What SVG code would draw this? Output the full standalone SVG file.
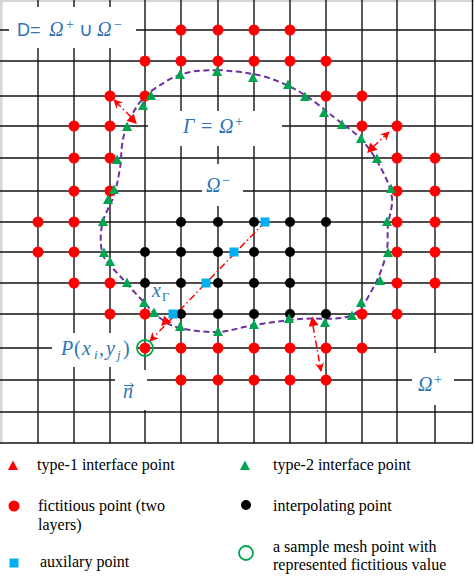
<svg xmlns="http://www.w3.org/2000/svg" xmlns:xlink="http://www.w3.org/1999/xlink" width="474" height="577" viewBox="0 0 474 577">
<style>
.grid{stroke:#151515;stroke-width:1.4;fill:none}
.mask{fill:#fff}
.fict{fill:#ff0000}
.interp{fill:#000}
.t2{fill:#00a550}
.t1{fill:#ff0000}
.aux{fill:#00b0f0}
.curve{fill:none;stroke:#7030a0;stroke-width:2;stroke-dasharray:6 3.5}
.ray{fill:none;stroke:#ff0000;stroke-width:1.5;stroke-dasharray:7 3 1.5 3}
.lab{fill:#2e74b5;font-family:"Liberation Serif",serif;font-style:italic}
.leg{fill:#000;font-family:"Liberation Serif",serif;font-size:16px}
</style>
<defs>
<path id="tri" d="M0,-5.5 L5,4 L-5,4 Z"/>
<marker id="ah" viewBox="0 0 10 10" refX="9" refY="5" markerWidth="9" markerHeight="9" markerUnits="userSpaceOnUse" orient="auto">
<path d="M0,0 L10,5 L0,10 L3,5 Z" fill="#ff0000"/>
</marker>
</defs>
<rect width="474" height="577" fill="#fff"/>
<rect x="0" y="0" width="474" height="2" fill="#d6d6d6"/>
<rect x="0" y="0" width="2.5" height="443" fill="#d6d6d6"/>
<g id="grid" class="grid">
<path d="M38,0V443M74,0V443M110,0V443M145,0V443M181,0V443M218,0V443M254,0V443M290,0V443M326,0V443M362,0V443M397,0V443M435,0V443M472.5,0V443"/>
<path d="M0,30H473M0,61H473M0,96H473M0,126H473M0,158H473M0,191H473M0,222H473M0,252H473M0,283H473M0,314H473M0,348H473M0,380H473M0,412H473M0,443H473"/>
</g>
<g id="label-masks" class="mask">
<rect x="9" y="7" width="127" height="41"/>
<rect x="148" y="111" width="134" height="35"/>
<rect x="202" y="164" width="41" height="42"/>
<rect x="52" y="333" width="85" height="34"/>
<rect x="115" y="370" width="32" height="40"/>
<rect x="412" y="353" width="42" height="52"/>
</g>
<g id="connectors">
<path class="curve" d="M217,70 C229,70.7 248.2,72.3 262,76 C275.8,79.7 287.8,85 300,92 C312.2,99 324.7,110 335,118 C345.3,126 354.2,131.3 362,140 C369.8,148.7 377,160.3 382,170 C387,179.7 391,188.8 392,198 C393,207.2 389,215.5 388,225 C387,234.5 388.7,244.2 386,255 C383.3,265.8 378,279.8 372,290 C366,300.2 362,311.2 350,316 C338,320.8 316,317.5 300,319 C284,320.5 267.7,322.8 254,325 C240.3,327.2 230.3,331.5 218,332 C205.7,332.5 189.7,330.3 180,328 C170.3,325.7 166.7,323 160,318 C153.3,313 146.7,305 140,298 C133.3,291 126.2,283.2 120,276 C113.8,268.8 106,263.5 103,255 C100,246.5 100.2,235 102,225 C103.8,215 111,204.5 114,195 C117,185.5 118.3,178 120,168 C121.7,158 120.7,146 124,135 C127.3,124 133.2,110.8 140,102 C146.8,93.2 156.7,87 165,82 C173.3,77 181.3,74 190,72 C198.7,70 205,70.7 217,70 Z"/>
<path class="ray" d="M265,222 L150,341" marker-end="url(#ah)"/>
<path class="ray" d="M131,117 L114,100" marker-end="url(#ah)"/>
<path class="ray" d="M373,147 L389,132" marker-end="url(#ah)"/>
<path class="ray" d="M313,326 L321,371" marker-end="url(#ah)"/>
</g>
<g id="fictitious-points" class="fict">
<circle cx="181" cy="30" r="5.5"/><circle cx="218" cy="30" r="5.5"/><circle cx="254" cy="30" r="5.5"/><circle cx="290" cy="30" r="5.5"/>
<circle cx="145" cy="61" r="5.5"/><circle cx="181" cy="61" r="5.5"/><circle cx="218" cy="61" r="5.5"/><circle cx="254" cy="61" r="5.5"/><circle cx="290" cy="61" r="5.5"/><circle cx="326" cy="61" r="5.5"/>
<circle cx="110" cy="96" r="5.5"/><circle cx="145" cy="96" r="5.5"/><circle cx="326" cy="96" r="5.5"/><circle cx="362" cy="96" r="5.5"/>
<circle cx="74" cy="126" r="5.5"/><circle cx="110" cy="126" r="5.5"/><circle cx="362" cy="126" r="5.5"/><circle cx="397" cy="126" r="5.5"/>
<circle cx="74" cy="158" r="5.5"/><circle cx="110" cy="158" r="5.5"/><circle cx="397" cy="158" r="5.5"/><circle cx="435" cy="158" r="5.5"/>
<circle cx="74" cy="191" r="5.5"/><circle cx="110" cy="191" r="5.5"/><circle cx="397" cy="191" r="5.5"/><circle cx="435" cy="191" r="5.5"/>
<circle cx="38" cy="222" r="5.5"/><circle cx="74" cy="222" r="5.5"/><circle cx="397" cy="222" r="5.5"/><circle cx="435" cy="222" r="5.5"/>
<circle cx="38" cy="252" r="5.5"/><circle cx="74" cy="252" r="5.5"/><circle cx="397" cy="252" r="5.5"/><circle cx="435" cy="252" r="5.5"/>
<circle cx="74" cy="283" r="5.5"/><circle cx="110" cy="283" r="5.5"/><circle cx="397" cy="283" r="5.5"/><circle cx="435" cy="283" r="5.5"/>
<circle cx="110" cy="314" r="5.5"/><circle cx="145" cy="314" r="5.5"/><circle cx="362" cy="314" r="5.5"/><circle cx="397" cy="314" r="5.5"/>
<circle cx="145" cy="348" r="5.5"/><circle cx="181" cy="348" r="5.5"/><circle cx="218" cy="348" r="5.5"/><circle cx="254" cy="348" r="5.5"/><circle cx="290" cy="348" r="5.5"/><circle cx="326" cy="348" r="5.5"/><circle cx="362" cy="348" r="5.5"/>
<circle cx="181" cy="380" r="5.5"/><circle cx="218" cy="380" r="5.5"/><circle cx="254" cy="380" r="5.5"/><circle cx="290" cy="380" r="5.5"/><circle cx="326" cy="380" r="5.5"/>
</g>
<g id="interpolating-points" class="interp">
<circle cx="181" cy="222" r="5"/><circle cx="218" cy="222" r="5"/><circle cx="254" cy="222" r="5"/><circle cx="290" cy="222" r="5"/><circle cx="326" cy="222" r="5"/>
<circle cx="145" cy="252" r="5"/><circle cx="181" cy="252" r="5"/><circle cx="218" cy="252" r="5"/><circle cx="254" cy="252" r="5"/><circle cx="290" cy="252" r="5"/>
<circle cx="145" cy="283" r="5"/><circle cx="181" cy="283" r="5"/><circle cx="218" cy="283" r="5"/><circle cx="254" cy="283" r="5"/><circle cx="290" cy="283" r="5"/>
<circle cx="181" cy="314" r="5"/><circle cx="218" cy="314" r="5"/><circle cx="254" cy="314" r="5"/><circle cx="290" cy="314" r="5"/><circle cx="326" cy="314" r="5"/>
</g>
<g id="auxiliary-points" class="aux">
<rect x="260.5" y="217.5" width="9" height="9"/>
<rect x="229.5" y="247.5" width="9" height="9"/>
<rect x="201.5" y="278.5" width="9" height="9"/>
<rect x="168.5" y="309.5" width="9" height="9"/>
</g>
<g id="type2-interface-points" class="t2">
<use href="#tri" x="180" y="75"/><use href="#tri" x="217" y="72"/><use href="#tri" x="253" y="78"/><use href="#tri" x="288" y="85"/>
<use href="#tri" x="305" y="97"/><use href="#tri" x="324" y="113"/><use href="#tri" x="342" y="125"/><use href="#tri" x="361" y="139"/>
<use href="#tri" x="377" y="159"/><use href="#tri" x="391" y="189"/><use href="#tri" x="387" y="222"/><use href="#tri" x="388" y="253"/>
<use href="#tri" x="380" y="281"/><use href="#tri" x="361" y="303"/><use href="#tri" x="352" y="316"/><use href="#tri" x="325" y="323"/>
<use href="#tri" x="289" y="319"/><use href="#tri" x="254" y="325"/><use href="#tri" x="218" y="332"/><use href="#tri" x="180" y="327"/>
<use href="#tri" x="154" y="313"/><use href="#tri" x="144" y="303"/><use href="#tri" x="127" y="283"/><use href="#tri" x="110" y="262"/>
<use href="#tri" x="104" y="253"/><use href="#tri" x="103" y="222"/><use href="#tri" x="108" y="200"/><use href="#tri" x="114" y="190"/>
<use href="#tri" x="117" y="160"/><use href="#tri" x="127" y="127"/><use href="#tri" x="143" y="106"/><use href="#tri" x="151" y="96"/>
</g>
<g id="type1-interface-points" class="t1">
<use href="#tri" transform="translate(133,120) rotate(135)"/>
<use href="#tri" transform="translate(371,149) rotate(225)"/>
<use href="#tri" transform="translate(313,322) rotate(-10)"/>
<use href="#tri" transform="translate(165,322) rotate(224)"/>
</g>
<g id="sample-point">
<circle cx="145" cy="348" r="8" fill="none" stroke="#00a550" stroke-width="1.8"/>
</g>
<g id="labels" class="lab">
<text x="17" y="36" font-size="18" font-style="normal" font-family="Liberation Sans, sans-serif">D=</text>
<text x="49" y="36" font-size="20">Ω</text>
<text x="66" y="29" font-size="14" font-style="normal">+</text>
<text x="79" y="36" font-size="19" font-style="normal">∪</text>
<text x="97" y="36" font-size="20">Ω</text>
<text x="114" y="29" font-size="14" font-style="normal">−</text>
<text x="183" y="133" font-size="20">Γ</text>
<text x="201" y="133" font-size="20" font-style="normal">=</text>
<text x="219" y="133" font-size="20">Ω</text>
<text x="235" y="126" font-size="14" font-style="normal">+</text>
<text x="206" y="192" font-size="20">Ω</text>
<text x="222" y="185" font-size="14" font-style="normal">−</text>
<text x="152" y="297" font-size="20">x</text>
<text x="162" y="301" font-size="13" font-style="normal">Γ</text>
<text x="61" y="355" font-size="20">P</text>
<text x="74" y="355" font-size="20" font-style="normal">(</text>
<text x="82" y="355" font-size="20">x</text>
<text x="94" y="359" font-size="13">i</text>
<text x="99" y="355" font-size="20" font-style="normal">,</text>
<text x="106" y="355" font-size="20">y</text>
<text x="117" y="359" font-size="13">j</text>
<text x="123" y="355" font-size="20" font-style="normal">)</text>
<text x="123" y="398" font-size="20">n</text>
<path d="M124,385.5 H133 M130.5,383 L133.5,385.5 L130.5,388" fill="none" stroke="#2e74b5" stroke-width="1"/>
<text x="418" y="391" font-size="20">Ω</text>
<text x="434" y="384" font-size="14" font-style="normal">+</text>
</g>
<g id="legend">
<use href="#tri" x="13" y="466" class="t1"/>
<text class="leg" x="37" y="470">type-1 interface point</text>
<use href="#tri" x="245" y="466" class="t2"/>
<text class="leg" x="273" y="470">type-2 interface point</text>
<circle cx="14" cy="506" r="5.5" class="fict"/>
<text class="leg" x="38" y="511">fictitious point (two</text>
<text class="leg" x="38" y="530">layers)</text>
<circle cx="246" cy="505" r="5" class="interp"/>
<text class="leg" x="273" y="511">interpolating point</text>
<rect x="9.5" y="558.5" width="9" height="9" class="aux"/>
<text class="leg" x="40" y="567">auxilary point</text>
<circle cx="246" cy="553" r="7" fill="none" stroke="#00a550" stroke-width="1.8"/>
<text class="leg" x="273" y="552">a sample mesh point with</text>
<text class="leg" x="273" y="570">represented fictitious value</text>
</g>
</svg>
